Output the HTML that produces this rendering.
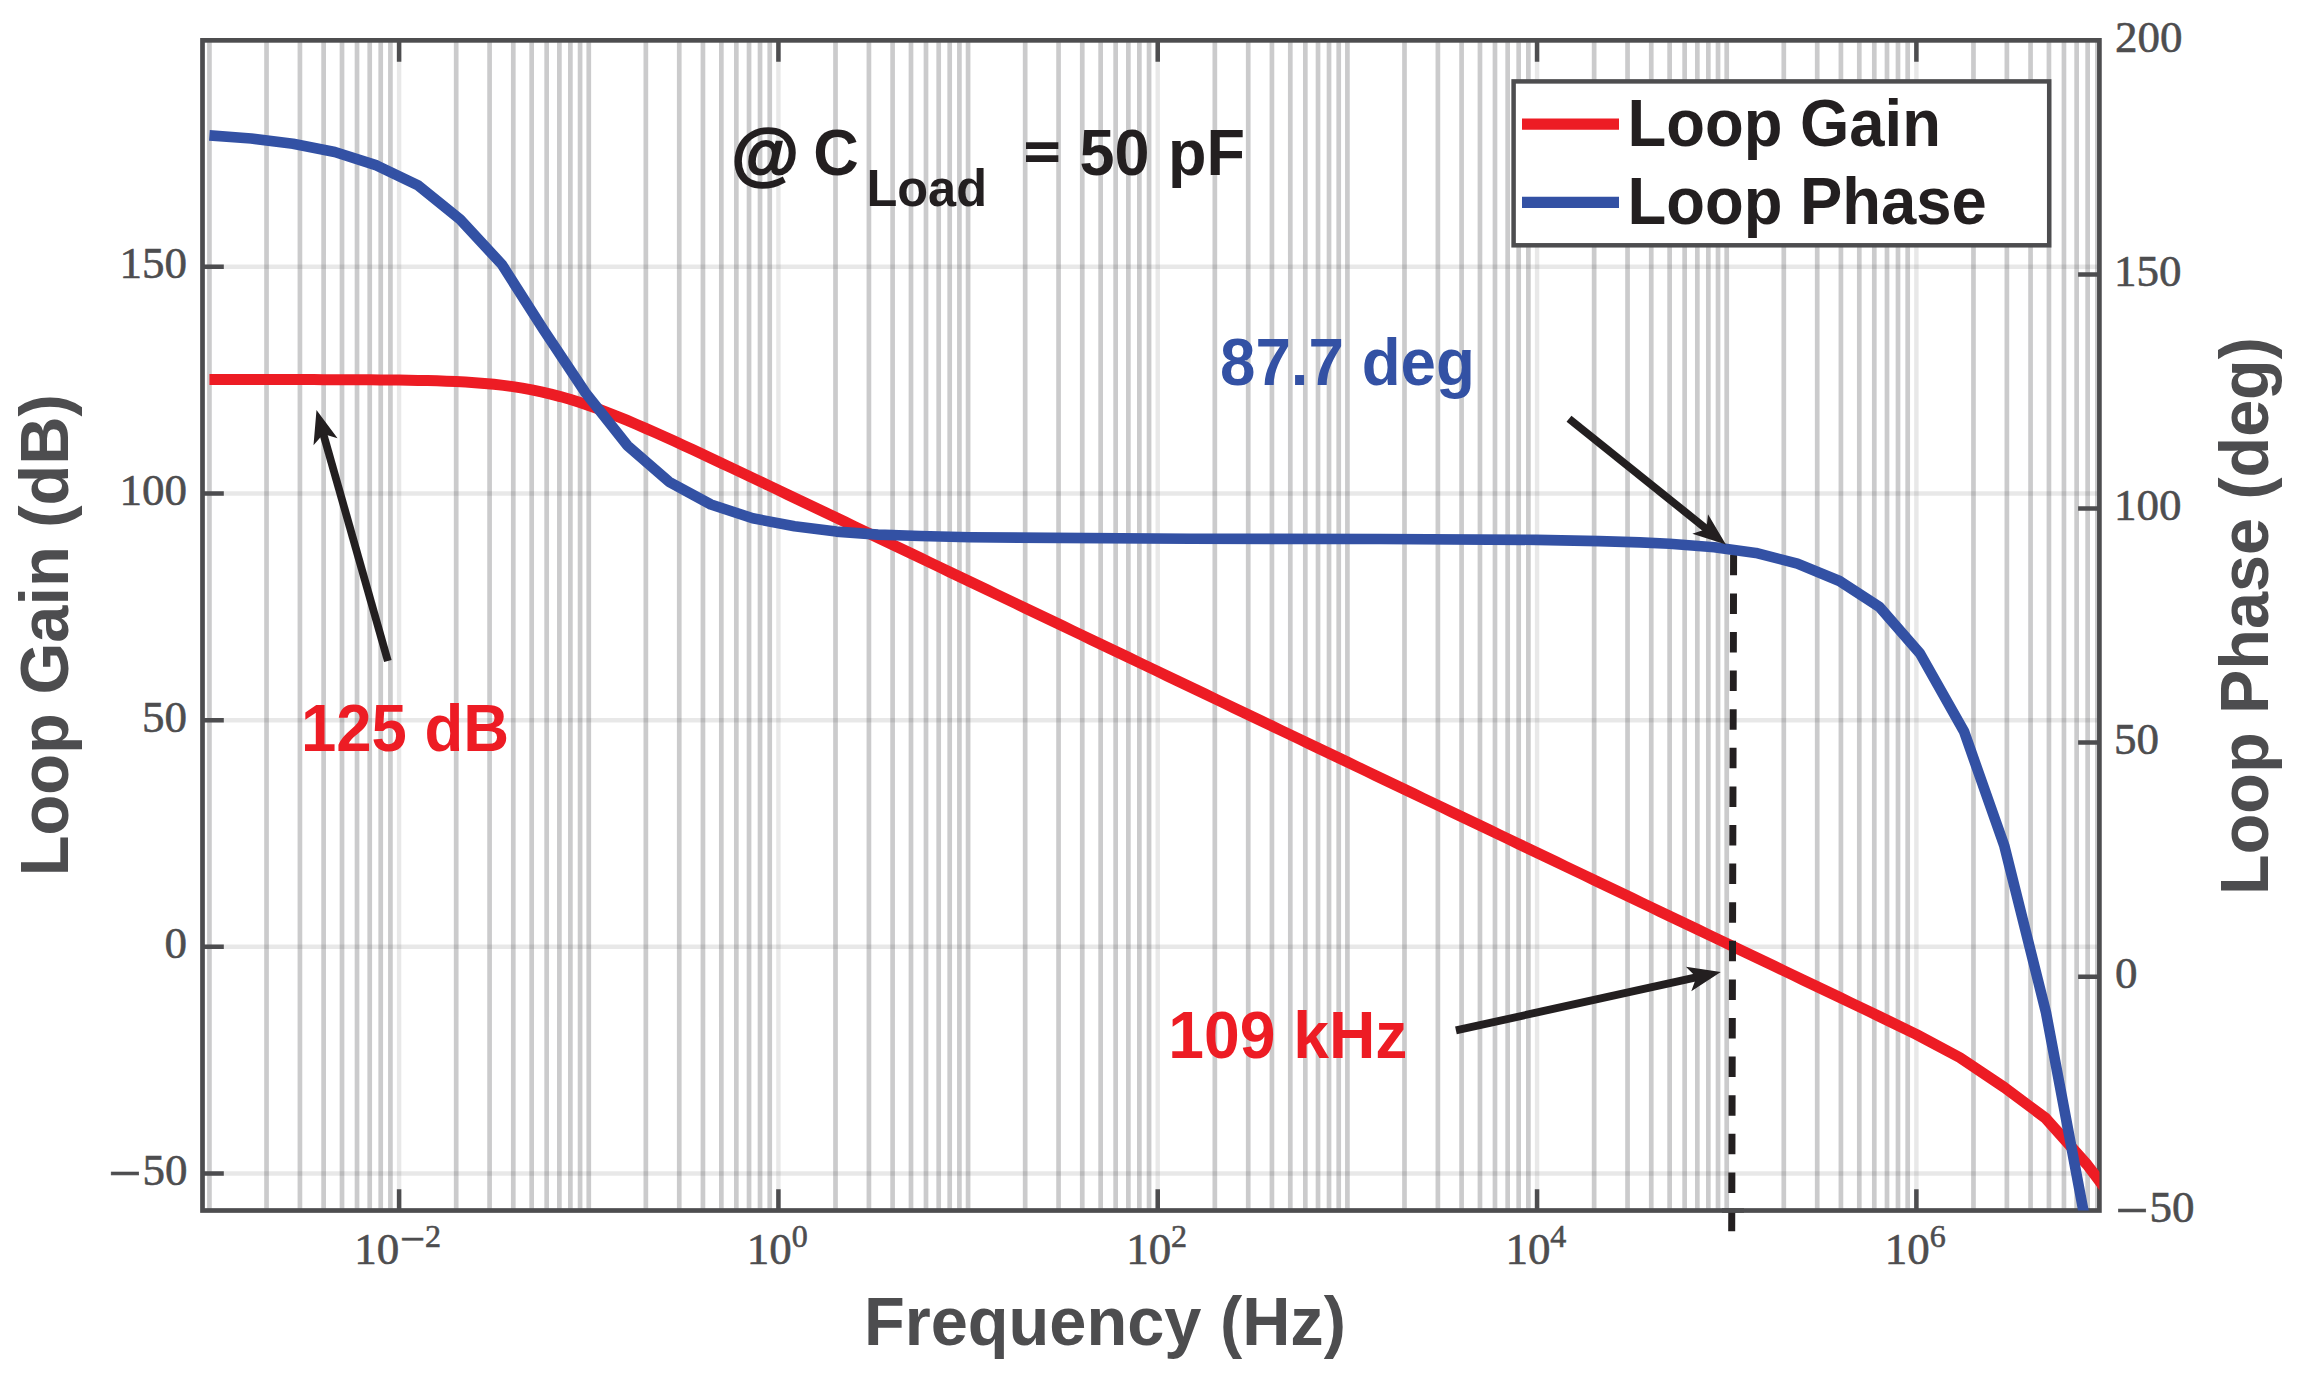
<!DOCTYPE html>
<html lang="en"><head><meta charset="utf-8"><title>Loop Gain and Loop Phase</title>
<style>html,body{margin:0;padding:0;background:#fff}svg{display:block}.ser{font-family:"Liberation Serif",serif;fill:#4d4d4f}.san{font-family:"Liberation Sans",sans-serif;font-weight:bold}</style>
</head><body>
<svg width="2300" height="1380" viewBox="0 0 2300 1380">
<rect x="0" y="0" width="2300" height="1380" fill="#fff"/>
<defs><clipPath id="ax"><rect x="202.50" y="40.35" width="1896.90" height="1170.15"/></clipPath></defs>
<g clip-path="url(#ax)">
<path d="M200.76 40.35V1210.50M209.44 40.35V1210.50M266.53 40.35V1210.50M299.93 40.35V1210.50M323.63 40.35V1210.50M342.01 40.35V1210.50M357.02 40.35V1210.50M369.72 40.35V1210.50M380.72 40.35V1210.50M390.42 40.35V1210.50M456.19 40.35V1210.50M489.59 40.35V1210.50M513.29 40.35V1210.50M531.67 40.35V1210.50M546.68 40.35V1210.50M559.38 40.35V1210.50M570.38 40.35V1210.50M580.08 40.35V1210.50M588.76 40.35V1210.50M645.85 40.35V1210.50M679.25 40.35V1210.50M702.95 40.35V1210.50M721.33 40.35V1210.50M736.34 40.35V1210.50M749.04 40.35V1210.50M760.04 40.35V1210.50M769.74 40.35V1210.50M835.51 40.35V1210.50M868.91 40.35V1210.50M892.61 40.35V1210.50M910.99 40.35V1210.50M926.00 40.35V1210.50M938.70 40.35V1210.50M949.70 40.35V1210.50M959.40 40.35V1210.50M968.08 40.35V1210.50M1025.17 40.35V1210.50M1058.57 40.35V1210.50M1082.27 40.35V1210.50M1100.65 40.35V1210.50M1115.66 40.35V1210.50M1128.36 40.35V1210.50M1139.36 40.35V1210.50M1149.06 40.35V1210.50M1214.83 40.35V1210.50M1248.23 40.35V1210.50M1271.93 40.35V1210.50M1290.31 40.35V1210.50M1305.32 40.35V1210.50M1318.02 40.35V1210.50M1329.02 40.35V1210.50M1338.72 40.35V1210.50M1347.40 40.35V1210.50M1404.49 40.35V1210.50M1437.89 40.35V1210.50M1461.59 40.35V1210.50M1479.97 40.35V1210.50M1494.98 40.35V1210.50M1507.68 40.35V1210.50M1518.68 40.35V1210.50M1528.38 40.35V1210.50M1594.15 40.35V1210.50M1627.55 40.35V1210.50M1651.25 40.35V1210.50M1669.63 40.35V1210.50M1684.64 40.35V1210.50M1697.34 40.35V1210.50M1708.34 40.35V1210.50M1718.04 40.35V1210.50M1726.72 40.35V1210.50M1783.81 40.35V1210.50M1817.21 40.35V1210.50M1840.91 40.35V1210.50M1859.29 40.35V1210.50M1874.30 40.35V1210.50M1887.00 40.35V1210.50M1898.00 40.35V1210.50M1907.70 40.35V1210.50M1973.47 40.35V1210.50M2006.87 40.35V1210.50M2030.57 40.35V1210.50M2048.95 40.35V1210.50M2063.96 40.35V1210.50M2076.66 40.35V1210.50M2087.66 40.35V1210.50M2097.36 40.35V1210.50" stroke="rgba(77,77,79,0.29)" stroke-width="4.7" fill="none"/>
<path d="M399.10 40.35V1210.50M778.42 40.35V1210.50M1157.74 40.35V1210.50M1537.06 40.35V1210.50M1916.38 40.35V1210.50" stroke="rgba(77,77,79,0.13)" stroke-width="4.4" fill="none"/>
<path d="M202.50 266.80H2099.40M202.50 493.47H2099.40M202.50 720.13H2099.40M202.50 946.80H2099.40M202.50 1173.46H2099.40" stroke="rgba(77,77,79,0.13)" stroke-width="4.5" fill="none"/>
</g>
<path d="M399.10 1210.50V1189.20M399.10 40.35V61.65M778.42 1210.50V1189.20M778.42 40.35V61.65M1157.74 1210.50V1189.20M1157.74 40.35V61.65M1537.06 1210.50V1189.20M1537.06 40.35V61.65M1916.38 1210.50V1189.20M1916.38 40.35V61.65M202.50 266.80H223.80M202.50 493.47H223.80M202.50 720.13H223.80M202.50 946.80H223.80M202.50 1173.46H223.80M2099.40 274.43H2078.10M2099.40 508.50H2078.10M2099.40 742.57H2078.10M2099.40 976.65H2078.10" stroke="#4d4d4f" stroke-width="4.5" fill="none"/>
<rect x="202.50" y="40.35" width="1896.90" height="1170.15" fill="none" stroke="#4d4d4f" stroke-width="4.7"/>
<g clip-path="url(#ax)" fill="none" stroke-linejoin="round">
<path d="M209.44 379.55L218.92 379.55L228.41 379.56L237.89 379.56L247.37 379.56L256.85 379.57L266.34 379.57L275.82 379.58L285.30 379.58L294.79 379.59L304.27 379.60L313.75 379.62L323.24 379.63L332.72 379.66L342.20 379.68L351.68 379.72L361.17 379.76L370.65 379.82L380.13 379.89L389.62 379.97L399.10 380.08L408.58 380.22L418.07 380.39L427.55 380.60L437.03 380.86L446.51 381.19L456.00 381.59L465.48 382.08L474.96 382.69L484.45 383.43L493.93 384.32L503.41 385.39L512.90 386.65L522.38 388.14L531.86 389.87L541.34 391.84L550.83 394.08L560.31 396.57L569.79 399.32L579.28 402.32L588.76 405.53L598.24 408.95L607.73 412.55L617.21 416.32L626.69 420.21L636.17 424.23L645.66 428.34L655.14 432.53L664.62 436.78L674.11 441.09L683.59 445.45L693.07 449.84L702.56 454.26L712.04 458.70L721.52 463.16L731.00 467.64L740.49 472.12L749.97 476.62L759.45 481.12L768.94 485.63L778.42 490.15L787.90 494.67L797.39 499.19L806.87 503.71L816.35 508.24L825.83 512.77L835.32 517.29L844.80 521.82L854.28 526.35L863.77 530.89L873.25 535.42L882.73 539.95L892.22 544.48L901.70 549.01L911.18 553.55L920.66 558.08L930.15 562.61L939.63 567.14L949.11 571.68L958.60 576.21L968.08 580.74L977.56 585.28L987.05 589.81L996.53 594.34L1006.01 598.88L1015.49 603.41L1024.98 607.94L1034.46 612.48L1043.94 617.01L1053.43 621.54L1062.91 626.08L1072.39 630.61L1081.88 635.14L1091.36 639.68L1100.84 644.21L1110.32 648.74L1119.81 653.28L1129.29 657.81L1138.77 662.34L1148.26 666.88L1157.74 671.41L1167.22 675.94L1176.71 680.48L1186.19 685.01L1195.67 689.54L1205.15 694.08L1214.64 698.61L1224.12 703.14L1233.60 707.68L1243.09 712.21L1252.57 716.74L1262.05 721.27L1271.54 725.81L1281.02 730.34L1290.50 734.87L1299.98 739.41L1309.47 743.94L1318.95 748.47L1328.43 753.01L1337.92 757.54L1347.40 762.07L1356.88 766.61L1366.37 771.14L1375.85 775.67L1385.33 780.21L1394.81 784.74L1404.30 789.27L1413.78 793.81L1423.26 798.34L1432.75 802.87L1442.23 807.41L1451.71 811.94L1461.20 816.47L1470.68 821.01L1480.16 825.54L1489.64 830.07L1499.13 834.61L1508.61 839.14L1518.09 843.67L1527.58 848.21L1537.06 852.74L1546.54 857.27L1556.03 861.81L1565.51 866.34L1574.99 870.87L1584.47 875.41L1593.96 879.94L1603.44 884.47L1612.92 889.01L1622.41 893.54L1631.89 898.07L1641.37 902.61L1650.86 907.14L1660.34 911.67L1669.82 916.21L1679.30 920.74L1688.79 925.27L1698.27 929.81L1707.75 934.34L1717.24 938.87L1726.72 943.41L1736.20 947.94L1745.69 952.47L1755.17 957.01L1764.65 961.54L1774.13 966.07L1783.62 970.61L1793.10 975.14L1802.58 979.67L1812.07 984.21L1821.55 988.74L1831.03 993.27L1840.52 997.81L1850.00 1002.34L1859.48 1006.87L1868.96 1011.41L1878.45 1015.94L1916.30 1034.40L1959.70 1057.50L2004.30 1087.40L2045.40 1118.00L2087.00 1164.50L2099.80 1181.50L2106.00 1190.00" stroke="#ed1c24" stroke-width="11"/>
</g>
<line x1="1733.6" y1="554.8" x2="1731.7" y2="1231.2" stroke="#231f20" stroke-width="7" stroke-dasharray="20.5 18.1"/>
<line x1="1722" y1="1210.50" x2="1744" y2="1210.50" stroke="#4d4d4f" stroke-width="4.7"/>
<g clip-path="url(#ax)" fill="none" stroke-linejoin="round">
<path d="M209.40 135.40L251.20 138.50L293.00 143.80L334.80 152.00L376.60 165.40L418.35 185.60L460.10 219.35L501.90 264.50L543.70 330.00L585.50 392.70L627.30 445.40L669.10 481.80L710.90 504.50L752.70 518.30L794.50 526.20L836.30 531.60L878.00 534.60L920.00 536.00L970.00 537.30L1190.00 538.80L1380.00 538.95L1536.50 539.90L1599.00 541.10L1640.00 542.40L1669.50 543.80L1714.20 547.20L1755.80 552.90L1797.40 563.60L1839.50 581.00L1879.50 607.00L1920.00 653.50L1964.00 731.30L2004.40 846.10L2046.00 1012.50L2087.60 1233.00" stroke="#3351a4" stroke-width="10.6"/>
</g>
<rect x="1513.6" y="81.4" width="535.6" height="163.9" fill="#fff" stroke="#4d4d4f" stroke-width="4.5"/>
<line x1="1522" y1="124.2" x2="1619" y2="124.2" stroke="#ed1c24" stroke-width="11.2"/>
<line x1="1522" y1="202.4" x2="1619" y2="202.4" stroke="#3351a4" stroke-width="11.2"/>
<text class="san" transform="translate(1627.50 146.00) scale(1 1.040)" font-size="63.40" fill="#231f20">Loop Gain</text>
<text class="san" transform="translate(1627.50 224.30) scale(1 1.040)" font-size="63.40" fill="#231f20">Loop Phase</text>
<line x1="1568.99" y1="418.69" x2="1707.96" y2="530.21" stroke="#231f20" stroke-width="7.8"/><polygon points="1725.90,544.60 1692.34,533.70 1706.40,528.95 1707.99,514.20" fill="#231f20"/>
<line x1="387.86" y1="660.95" x2="322.79" y2="432.12" stroke="#231f20" stroke-width="7.8"/><polygon points="316.50,410.00 337.55,438.32 323.34,434.05 313.50,445.16" fill="#231f20"/>
<line x1="1455.93" y1="1030.38" x2="1698.34" y2="976.86" stroke="#231f20" stroke-width="7.8"/><polygon points="1720.80,971.90 1691.27,991.22 1696.39,977.29 1685.88,966.81" fill="#231f20"/>
<text class="san" x="731.5" y="176.5" font-size="69" fill="#231f20" stroke="#231f20" stroke-width="2">@</text>
<text class="san" transform="translate(0.00 174.80) scale(1 1.040)" font-size="63.00" fill="#231f20"><tspan x="813.2" y="0">C</tspan><tspan x="866.4" y="30.1" font-size="50.5">Load</tspan><tspan x="1079.5" y="0">50</tspan><tspan x="1168" y="0">pF</tspan></text>
<text class="san" transform="translate(1024.4 153.1) scale(1 0.8)" y="20.3" font-size="60.5" fill="#231f20" stroke="#231f20" stroke-width="2">=</text>
<text class="san" transform="translate(1220.00 384.80) scale(1 1.040)" font-size="63.70" fill="#3351a4">87.7 deg</text>
<text class="san" transform="translate(301.00 750.90) scale(1 1.040)" font-size="63.50" fill="#ed1c24">125 dB</text>
<text class="san" transform="translate(1168.30 1057.90) scale(1 1.040)" font-size="64.20" fill="#ed1c24">109 kHz</text>
<text class="ser" stroke="#4d4d4f" stroke-width="0.6" x="187" y="278.35" font-size="45" text-anchor="end">150</text>
<text class="ser" stroke="#4d4d4f" stroke-width="0.6" x="187" y="505.02" font-size="45" text-anchor="end">100</text>
<text class="ser" stroke="#4d4d4f" stroke-width="0.6" x="187" y="731.68" font-size="45" text-anchor="end">50</text>
<text class="ser" stroke="#4d4d4f" stroke-width="0.6" x="187" y="958.35" font-size="45" text-anchor="end">0</text>
<text class="ser" stroke="#4d4d4f" stroke-width="0.6" font-size="45"><tspan x="108.34" y="1192.92" font-size="59.1">−</tspan><tspan x="142.6" y="1185.01" font-size="45">50</tspan></text>
<text class="ser" stroke="#4d4d4f" stroke-width="0.6" x="2115.0" y="51.90" font-size="45">200</text>
<text class="ser" stroke="#4d4d4f" stroke-width="0.6" x="2114.0" y="285.98" font-size="45">150</text>
<text class="ser" stroke="#4d4d4f" stroke-width="0.6" x="2114.0" y="520.05" font-size="45">100</text>
<text class="ser" stroke="#4d4d4f" stroke-width="0.6" x="2114.0" y="754.12" font-size="45">50</text>
<text class="ser" stroke="#4d4d4f" stroke-width="0.6" x="2115.0" y="988.20" font-size="45">0</text>
<text class="ser" stroke="#4d4d4f" stroke-width="0.6" font-size="45"><tspan x="2115.56" y="1230.04" font-size="58.7">−</tspan><tspan x="2149.6" y="1222.27" font-size="45">50</tspan></text>
<text class="ser" stroke="#4d4d4f" stroke-width="0.6" x="354.30" y="1263.6" font-size="45">10<tspan x="399.90" y="1253.53" font-size="44.5">−</tspan><tspan x="424.90" y="1246.9" font-size="32">2</tspan></text>
<text class="ser" stroke="#4d4d4f" stroke-width="0.6" x="746.82" y="1263.6" font-size="45">10<tspan x="791.72" y="1246.9" font-size="32">0</tspan></text>
<text class="ser" stroke="#4d4d4f" stroke-width="0.6" x="1126.14" y="1263.6" font-size="45">10<tspan x="1171.04" y="1246.9" font-size="32">2</tspan></text>
<text class="ser" stroke="#4d4d4f" stroke-width="0.6" x="1505.46" y="1263.6" font-size="45">10<tspan x="1550.36" y="1246.9" font-size="32">4</tspan></text>
<text class="ser" stroke="#4d4d4f" stroke-width="0.6" x="1884.78" y="1263.6" font-size="45">10<tspan x="1929.68" y="1246.9" font-size="32">6</tspan></text>
<text class="san" transform="translate(863.90 1344.70) scale(1 1.040)" font-size="66.75" fill="#4d4d4f">Frequency (Hz)</text>
<text class="san" transform="translate(68.00 876.20) rotate(-90) scale(1 1.040)" font-size="66.75" fill="#4d4d4f">Loop Gain (dB)</text>
<text class="san" transform="translate(2268.40 894.90) rotate(-90) scale(1 1.040)" font-size="66.50" fill="#4d4d4f">Loop Phase (deg)</text>
</svg></body></html>
